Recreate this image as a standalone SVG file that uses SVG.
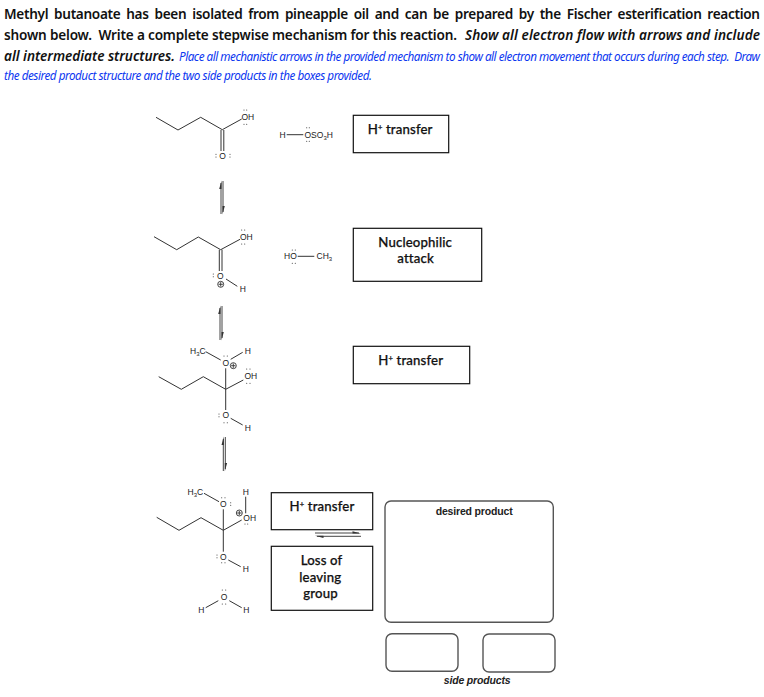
<svg xmlns="http://www.w3.org/2000/svg" width="764" height="697" viewBox="0 0 764 697">
<style>
text{white-space:pre}
.q{font-family:"Noto Sans","Open Sans",sans-serif;font-size:13.6px;font-weight:560;fill:#111}
.w{word-spacing:2.6px}
.qi{font-style:italic}
.b{font-family:"Noto Sans","Open Sans",sans-serif;font-size:11.7px;font-style:italic;fill:#0b36f0}
.l{font-family:Lato,"Noto Sans",sans-serif;font-size:13.2px;font-weight:500;fill:#111;stroke:#111;stroke-width:.25;letter-spacing:.15px}
.c{font-family:"Liberation Sans",Arial,sans-serif;font-size:8.5px;fill:#222}
.p{font-family:"Liberation Sans",Arial,sans-serif;font-size:10.5px;font-weight:bold;fill:#222}
.box{fill:#fff;stroke:#111;stroke-width:1.2}
.rbox{fill:#fff;stroke:#555;stroke-width:1.4}
.bond{fill:none;stroke:#333;stroke-width:1}
.dots{fill:none;stroke:#333;stroke-width:1.1;stroke-linecap:round}
.eq{fill:none;stroke:#444;stroke-width:1}
.head{fill:#333}
.plus{fill:none;stroke:#333;stroke-width:.9}
</style>
<g id="question">
<text class="q w" x="4" y="19" textLength="756" lengthAdjust="spacing">Methyl butanoate has been isolated from pineapple oil and can be prepared by the Fischer esterification reaction</text>
<text class="q" x="4" y="40" textLength="453" lengthAdjust="spacing">shown below.  Write a complete stepwise mechanism for this reaction.</text>
<text class="q qi" x="465" y="40" textLength="295" lengthAdjust="spacing">Show all electron flow with arrows and include</text>
<text class="q qi" x="4" y="61" textLength="171" lengthAdjust="spacing">all intermediate structures.</text>
<text class="b" x="179" y="61" textLength="581" lengthAdjust="spacing">Place all mechanistic arrows in the provided mechanism to show all electron movement that occurs during each step.  Draw</text>
<text class="b" x="4" y="80" textLength="368" lengthAdjust="spacing">the desired product structure and the two side products in the boxes provided.</text>
</g>
<g id="connectors">
<path class="eq" d="M221 183V214M223 181V212"/>
<path class="head" d="M221.5 180.5L219.2 189H221.5ZM222.5 214.5L224.8 206H222.5Z"/>
<path class="eq" d="M220 308V340M222 306V338"/>
<path class="head" d="M220.5 305.5L218.2 314H220.5ZM221.5 340.5L223.8 332H221.5Z"/>
<path class="eq" d="M223.3 439V471M225.3 437V469"/>
<path class="head" d="M223.8 436.5L221.5 445H223.8ZM224.8 471.5L227.1 463H224.8Z"/>
<path class="eq" d="M315 533H359M317 536.3H361"/>
<path class="head" d="M361 533.5L352.5 531.2V533.5ZM315 535.8L323.5 538.1V535.8Z"/>
</g>
<g id="mol-1">
<path class="bond" d="M156 117.3L178 130L200.7 117.3L222.3 129.7L241.7 119M221 130V151M223.8 130V151"/>
<text class="c" x="241.5" y="120.3">OH</text>
<text class="c" x="222.5" y="158.8" text-anchor="middle">O</text>
<path class="dots" d="M244 110h0M246.7 110h0M244 124.3h0M246.7 124.3h0M216 154.3h0M216 157h0M230 154.3h0M230 157h0"/>
</g>
<g id="reagent-acid">
<path class="bond" d="M286.7 134.7H303.3"/>
<text class="c" x="279.5" y="137.8">H</text>
<text class="c" x="304.5" y="137.8">OSO<tspan font-size="6" dy="2">3</tspan><tspan dy="-2">H</tspan></text>
<path class="dots" d="M306.7 127.7h0M309.3 127.7h0M306.7 141.3h0M309.3 141.3h0"/>
</g>
<g id="mol-2">
<path class="bond" d="M154 236.7L176.7 249.7L198.3 237L220.7 249.7L240 239.3M219.3 249.7V271M222 249.7V271M226 279L237.3 286.3"/>
<text class="c" x="240" y="239.8">OH</text>
<text class="c" x="220.3" y="278.8" text-anchor="middle">O</text>
<text class="c" x="239.7" y="291.8">H</text>
<circle class="plus" cx="220.7" cy="284.3" r="3"/><path class="plus" d="M218.5 284.3h4.4M220.7 282.1v4.4"/>
<path class="dots" d="M241.7 230h0M244.7 230h0M241.7 244h0M244.7 244h0M213.3 274h0M213.3 276.7h0"/>
</g>
<g id="reagent-methanol">
<path class="bond" d="M297.7 256.3H314.3"/>
<text class="c" x="284" y="259.4">HO</text>
<text class="c" x="316.5" y="259.4">CH<tspan font-size="6" dy="2">3</tspan></text>
<path class="dots" d="M292.3 250h0M295.3 250h0M292.3 263.3h0M295.3 263.3h0"/>
</g>
<g id="mol-3">
<path class="bond" d="M158.7 376.7L181.3 389.3L203.3 376.7L225.7 389.3L243.3 380M225.7 368.3V410M205.7 351.7L220.7 360M230.7 359.3L242.7 352.3M230.7 418.3L242.7 425"/>
<text class="c" x="190" y="354.4">H<tspan font-size="6" dy="2">3</tspan><tspan dy="-2">C</tspan></text>
<text class="c" x="225.7" y="366.4" text-anchor="middle">O</text>
<text class="c" x="244.7" y="353.8">H</text>
<text class="c" x="244.5" y="379.4">OH</text>
<text class="c" x="225.7" y="418.4" text-anchor="middle">O</text>
<text class="c" x="244.7" y="431.4">H</text>
<circle class="plus" cx="233.3" cy="365.7" r="3"/><path class="plus" d="M231.1 365.7h4.4M233.3 363.5v4.4"/>
<path class="dots" d="M224 356h0M227.3 356h0M246.7 369h0M250 369h0M246.7 383.3h0M250 383.3h0M219 414h0M219 416.7h0M224 422.7h0M227.3 422.7h0"/>
</g>
<g id="mol-4">
<path class="bond" d="M156.7 517.3L179 530.3L201 517.7L223.3 530.3L241.7 520M223.3 509.3V551.7M204 493.3L219 501.7M245.7 496.7V513.3M228.3 560L240.7 566.7"/>
<text class="c" x="187.5" y="495">H<tspan font-size="6" dy="2">3</tspan><tspan dy="-2">C</tspan></text>
<text class="c" x="223.3" y="507.4" text-anchor="middle">O</text>
<text class="c" x="242.7" y="494.8">H</text>
<text class="c" x="243.3" y="520.8">OH</text>
<text class="c" x="223.3" y="559.8" text-anchor="middle">O</text>
<text class="c" x="242.7" y="572.1">H</text>
<circle class="plus" cx="239.3" cy="513" r="3"/><path class="plus" d="M237.1 513h4.4M239.3 510.8v4.4"/>
<path class="dots" d="M221.7 497.7h0M225 497.7h0M230.7 502.7h0M230.7 505.3h0M245 524h0M247.7 524h0M217 555h0M217 557.7h0M221.7 562.7h0M225 562.7h0"/>
</g>
<g id="water">
<path class="bond" d="M218.3 600.7L205.7 607.7M229.3 600.7L241.7 607.7"/>
<text class="c" x="224" y="600.4" text-anchor="middle">O</text>
<text class="c" x="198.3" y="612.8">H</text>
<text class="c" x="243.3" y="612.8">H</text>
<path class="dots" d="M222.3 590h0M225.7 590h0M222.3 604h0M225.7 604h0"/>
</g>
<g id="box-transfer-1">
<rect class="box" x="353.3" y="115.3" width="95.4" height="37.4"/>
<text class="l" x="367.7" y="133.5">H<tspan font-size="7.5" dy="-4">+</tspan><tspan dy="4"> transfer</tspan></text>
</g>
<g id="box-attack">
<rect class="box" x="353.3" y="228.3" width="128.4" height="53"/>
<text class="l"><tspan x="378.3" y="246.7">Nucleophilic</tspan><tspan x="397.3" y="262.7">attack</tspan></text>
</g>
<g id="box-transfer-2">
<rect class="box" x="353.3" y="346.3" width="116.4" height="37.4"/>
<text class="l" x="378.3" y="365">H<tspan font-size="7.5" dy="-4">+</tspan><tspan dy="4"> transfer</tspan></text>
</g>
<g id="box-transfer-3">
<rect class="box" x="271.3" y="492.7" width="101.4" height="37"/>
<text class="l" x="289.5" y="510.7">H<tspan font-size="7.5" dy="-4">+</tspan><tspan dy="4"> transfer</tspan></text>
</g>
<g id="box-leaving">
<rect class="box" x="271.3" y="546.3" width="101.4" height="64"/>
<text class="l"><tspan x="300.7" y="565">Loss of</tspan><tspan x="299.3" y="581.7">leaving</tspan><tspan x="303.3" y="597.5">group</tspan></text>
</g>
<g id="box-desired-product">
<rect class="rbox" x="385" y="501" width="168.3" height="121.3" rx="6"/>
<text class="p" x="435.7" y="514.7" textLength="77" lengthAdjust="spacing">desired product</text>
</g>
<g id="box-side-1"><rect class="rbox" x="386" y="633.7" width="72" height="37.6" rx="6"/></g>
<g id="box-side-2"><rect class="rbox" x="483" y="634" width="72" height="38" rx="6"/></g>
<text class="p" x="443.7" y="683.7" font-style="italic" textLength="67" lengthAdjust="spacing">side products</text>
</svg>
